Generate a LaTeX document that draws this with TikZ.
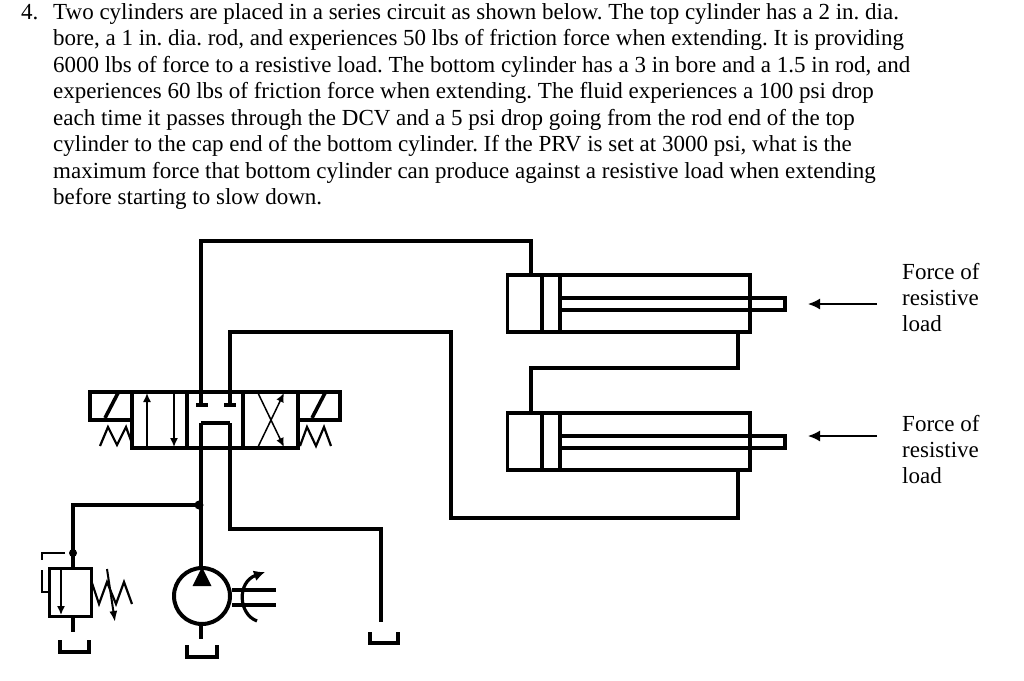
\documentclass[tikz,border=0pt]{standalone}
\usepackage{fontspec}
\setmainfont{Liberation Serif}
\usetikzlibrary{arrows.meta, positioning}
\tikzset{
    pipe/.style={line width=4pt, line join=miter},
    box/.style={draw, rectangle, line width=3.8pt, inner sep=0pt, outer sep=0pt, anchor=north west},
    thinarrow/.style={line width=1.5pt, -{Latex[length=9pt, width=8pt]}},
    springline/.style={line width=2.2pt, line join=miter},
    dotnode/.style={circle, fill=black, inner sep=0pt, minimum size=9pt},
    txt/.style={anchor=base west, inner sep=0pt, font=\fontsize{23pt}{26pt}\selectfont},
}
\begin{document}
\begin{tikzpicture}[x=1pt, y=-1pt]
    \useasboundingbox (0,0) rectangle (1024,680);
    \frenchspacing
    % question text
    \node[txt] (num) at (21,19) {4.};
    \foreach \txt [count=\i] in {
        {Two cylinders are placed in a series circuit as shown below. The top cylinder has a 2 in. dia.},
        {bore, a 1 in. dia. rod, and experiences 50 lbs of friction force when extending. It is providing},
        {6000 lbs of force to a resistive load. The bottom cylinder has a 3 in bore and a 1.5 in rod, and},
        {experiences 60 lbs of friction force when extending. The fluid experiences a 100 psi drop},
        {each time it passes through the DCV and a 5 psi drop going from the rod end of the top},
        {cylinder to the cap end of the bottom cylinder. If the PRV is set at 3000 psi, what is the},
        {maximum force that bottom cylinder can produce against a resistive load when extending},
        {before starting to slow down.}} {
        \node[txt] (line\i) at (53,{19+(\i-1)*26.5}) {\txt};
    }
    % cylinders
    \foreach \name/\y/\ay/\ly in {top/275/304/279, bot/413/436/431} {
        \node[box, minimum width=242.5pt, minimum height=57pt] (\name body) at (507.5,\y) {};
        \node[box, minimum width=18pt, minimum height=57pt] (\name piston) at (542,\y) {};
        \node[box, minimum width=225pt, minimum height=12pt] (\name rod) at (560,\y+23) {};
        \coordinate (\name force) at (877,\ay);
        \coordinate (\name tip) at (808,\ay);
        \draw[line width=1.6pt, -{Latex[length=12pt, width=11pt]}] (\name force) -- (\name tip);
        \node[txt] (\name labela) at (902,\ly) {Force of};
        \node[txt] (\name labelb) at (902,\ly+26.4) {resistive};
        \node[txt] (\name labelc) at (902,\ly+52.8) {load};
    }
    % valve
    \foreach \i in {1,2,3} {
        \node[box, minimum width=55.3pt, minimum height=56pt] (env\i) at ({132+(\i-1)*55.3},392) {};
    }
    \node[box, minimum width=42pt, minimum height=28pt] (solL) at (90,392) {};
    \node[box, minimum width=42pt, minimum height=28pt] (solR) at (298,392) {};
    \draw[line width=3.6pt] (105,418) -- (118,393);
    \draw[line width=3.6pt] (312,418) -- (325,393);
    \draw[springline] (100,446) -- (108,427) -- (117,445) -- (126,427) -- (133,446);
    \draw[springline] (300,446) -- (307,427) -- (316,446) -- (324,427) -- (331,446);
    \draw[thinarrow] (147,447) -- (147,393);
    \draw[thinarrow] (174,393) -- (174,447);
    \draw[thinarrow] (258,447) -- (284,393);
    \draw[thinarrow] (258,393) -- (284,447);
    % valve ports
    \coordinate (portP) at (201,405);
    \coordinate (portA) at (230,405);
    \coordinate (portC) at (201,423);
    \coordinate (portD) at (230,423);
    \draw[line width=3.6pt] (196,405) -- (208,405);
    \draw[line width=3.6pt] (224,405) -- (236,405);
    \draw[pipe] (portC) -- (portD);
    % lines to the cylinders
    \coordinate (capT) at (531,275);
    \coordinate (capB) at (531,413);
    \coordinate (rodT) at (738,332);
    \coordinate (rodB) at (738,469);
    \draw[pipe] (portP) -- (201,241) -- (531,241) -- (capT);
    \draw[pipe] (portA) -- (230,332) -- (451,332) -- (451,518) -- (738,518) -- (rodB);
    \draw[pipe] (rodT) -- (738,368) -- (531,368) -- (capB);
    % pump
    \node[draw, circle, line width=4pt, minimum size=56pt, inner sep=0pt] (pump) at (202,596) {};
    \draw[pipe] (portC) -- (201,568);
    \fill (202,567) -- (211.5,586) -- (192.5,586) -- cycle;
    \draw[line width=3.6pt] (pump.east |- 0,590) -- (276,590);
    \draw[line width=3.6pt] (pump.east |- 0,605) -- (276,605);
    \draw[line width=3.2pt, -{Latex[length=11pt, width=11pt]}] (257,621) .. controls (238,614) and (237,582) .. (265,572);
    \draw[pipe] (201,624) -- (201,639);
    \draw[pipe] (187,645) -- (187,657) -- (217,657) -- (217,645);
    % return line
    \coordinate (tankT) at (381,622);
    \draw[pipe] (portD) -- (230,529) -- (381,529) -- (tankT);
    \draw[pipe] (370,632) -- (370,643) -- (398,643) -- (398,632);
    % relief valve
    \node[box, line width=3pt, minimum width=42pt, minimum height=48pt] (prv) at (49,568) {};
    \node[dotnode] (teeP) at (199,505) {};
    \node[dotnode, minimum size=8pt] (teeR) at (73,553) {};
    \draw[pipe] (teeP.center) -- (73,505) -- (73,568);
    \draw[thinarrow] (61,569) -- (61,615);
    \draw[springline] (92,583) -- (99,604) -- (107,582) -- (116,604) -- (124,582) -- (132,604);
    \draw[line width=2pt, -{Latex[length=11pt, width=8pt]}] (107,569) -- (115,622);
    \draw[line width=2.6pt] (65,553) -- (42,553) -- (42,560);
    \draw[line width=2.6pt] (42,570) -- (42,592) -- (49,592);
    \draw[pipe] (73,616) -- (73,632);
    \draw[pipe] (60,640) -- (60,652) -- (89,652) -- (89,640);
\end{tikzpicture}
\end{document}
